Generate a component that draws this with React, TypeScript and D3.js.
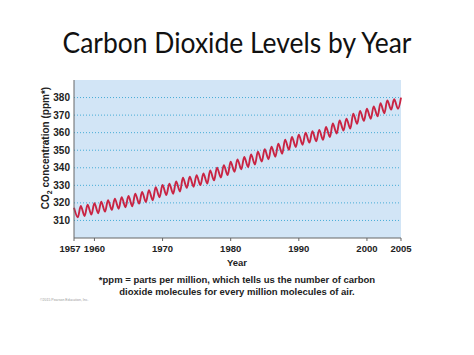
import React from "react";
import * as d3 from "d3";

const title = "Carbon Dioxide Levels by Year";
const xTickYears = [1957, 1960, 1970, 1980, 1990, 2000, 2005];
const yTickValues = [310, 320, 330, 340, 350, 360, 370, 380];
const firstYear = 1957;
// Seasonal maxima (early in each year), 1957..2005
const peaks = [
  317.2, 318.2, 319.0, 319.8, 320.7, 321.6, 322.4, 323.2, 323.9, 325.3,
  326.2, 327.2, 328.9, 330.2, 330.9, 332.2, 334.3, 334.9, 335.8, 336.7,
  338.5, 340.1, 341.5, 343.4, 344.8, 346.1, 347.6, 349.2, 350.6, 352.0,
  353.7, 356.0, 357.5, 358.8, 360.0, 360.8, 361.6, 363.2, 365.2, 366.9,
  368.0, 370.8, 372.4, 373.6, 375.0, 376.8, 378.4, 379.0, 380.0,
];
// Seasonal minima (mid-year), 1957..2004
const troughs = [
  311.8, 312.5, 313.3, 314.1, 315.0, 316.0, 316.7, 317.5, 318.1, 319.6,
  320.5, 321.5, 323.2, 324.5, 325.2, 326.5, 328.6, 329.2, 330.1, 331.0,
  332.8, 334.4, 335.8, 337.7, 339.1, 340.4, 341.9, 343.5, 344.9, 346.3,
  348.0, 350.3, 351.8, 353.1, 354.3, 355.1, 355.9, 357.5, 359.5, 361.2,
  362.3, 365.1, 366.7, 367.9, 369.3, 371.1, 373.1, 373.6,
];
const footnote1 = "*ppm = parts per million, which tells us the number of carbon";
const footnote2 = "dioxide molecules for every million molecules of air.";

export default function App() {
  const W = 474, H = 355;
  const left = 74, right = 401, top = 80, bottom = 238;
  const x = d3.scaleLinear().domain([1957, 2005]).range([left, right]);
  const y = d3.scaleLinear().domain([300, 390]).range([bottom, top]);

  const pts: [number, number][] = [];
  peaks.forEach((v, i) => {
    pts.push([firstYear + i, v]);
    if (i < troughs.length) pts.push([firstYear + i + 0.55, troughs[i]]);
  });
  const line = d3
    .line<[number, number]>()
    .x((d) => x(d[0]))
    .y((d) => y(d[1]))
    .curve(d3.curveCatmullRom.alpha(0.5));

  const bold = { fontFamily: "'Liberation Sans', Arial, sans-serif", fontWeight: 700 } as const;

  return (
    <svg width={W} height={H} style={{ position: "absolute", left: 0, top: 0, background: "#fff" }}>
      <text x={237} y={53} textAnchor="middle" fontFamily="Lato, 'Open Sans', sans-serif" fontSize={29} fill="#111" textLength={349} lengthAdjust="spacingAndGlyphs">
        {title}
      </text>
      <rect x={left} y={top} width={right - left} height={bottom - top} fill="#d2e5f6" />
      {yTickValues.map((v) => (
        <g key={v}>
          <line x1={left} x2={right} y1={y(v)} y2={y(v)} stroke="#46acd6" strokeWidth={1} strokeDasharray="1 2" />
          <text x={70} y={y(v) + 3.5} textAnchor="end" fontSize={10} fill="#222" {...bold}>
            {v}
          </text>
        </g>
      ))}
      <path d={line(pts) || ""} fill="none" stroke="#c92443" strokeWidth={1.9} />
      <line x1={left} x2={left} y1={top} y2={bottom} stroke="#666" strokeWidth={1} />
      <line x1={left} x2={right} y1={bottom} y2={bottom} stroke="#666" strokeWidth={1} />
      {xTickYears.map((t) => (
        <g key={t}>
          <line x1={x(t)} x2={x(t)} y1={bottom} y2={bottom + 3} stroke="#666" />
          <text x={x(t) - (t === 1957 ? 4 : 0)} y={252} textAnchor="middle" fontSize={9.5} fill="#222" {...bold}>
            {t}
          </text>
        </g>
      ))}
      <text x={237} y={266} textAnchor="middle" fontSize={9.5} fill="#222" {...bold}>Year</text>
      <text transform={`translate(49,148) rotate(-90)`} textAnchor="middle" fontSize={10} fill="#222" {...bold}>
        CO<tspan fontSize={7} dy={3}>2</tspan><tspan dy={-3}> concentration (ppm*)</tspan>
      </text>
      <text x={237} y={283} textAnchor="middle" fontSize={9.5} fill="#222" {...bold}>{footnote1}</text>
      <text x={237} y={295} textAnchor="middle" fontSize={9.5} fill="#222" {...bold}>{footnote2}</text>
      <text x={40} y={301} fontSize={3.5} fill="#999" fontFamily="'Liberation Sans', Arial, sans-serif">
        ©2015 Pearson Education, Inc.
      </text>
    </svg>
  );
}
